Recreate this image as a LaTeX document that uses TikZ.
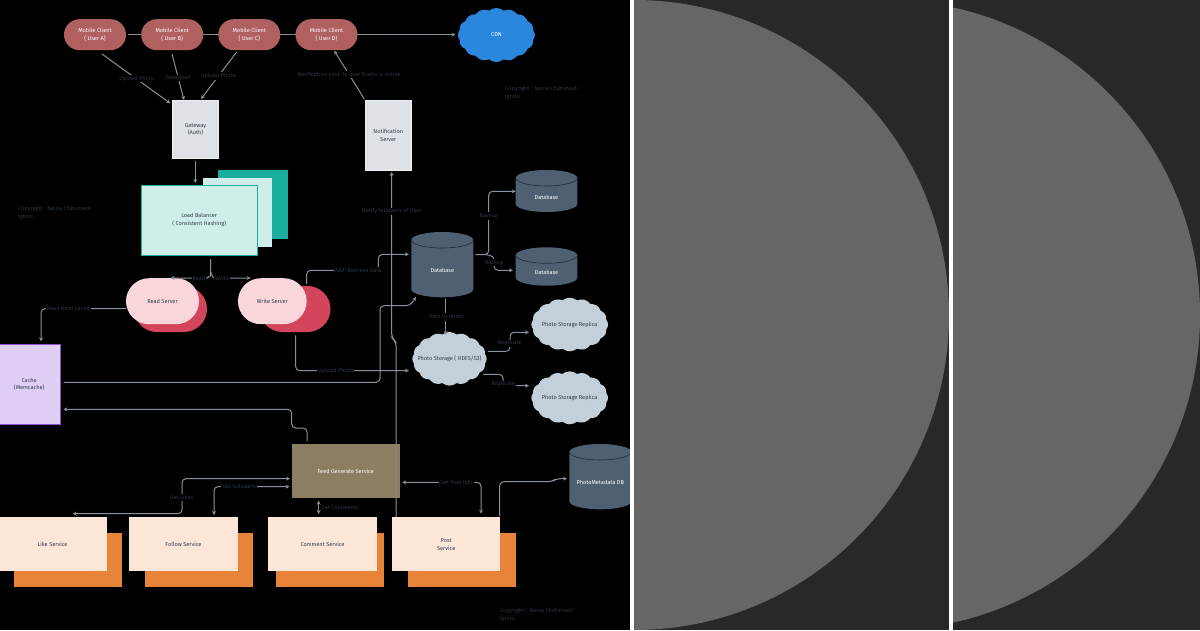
\documentclass[tikz,border=0pt]{standalone}
\usepackage{fontspec}
\setmainfont{Fira Sans}
\usetikzlibrary{shapes.geometric,shapes.symbols,shapes.misc,arrows.meta}
\definecolor{clientc}{HTML}{B0605E}
\definecolor{grayfill}{HTML}{DEE1E5}
\definecolor{tealb}{HTML}{1AAE9F}
\definecolor{tealf}{HTML}{CFEEEA}
\definecolor{pinkf}{HTML}{F8D6DA}
\definecolor{redb}{HTML}{D3455B}
\definecolor{lilac}{HTML}{E0CFF5}
\definecolor{purp}{HTML}{8A4FD3}
\definecolor{dbc}{HTML}{4E6072}
\definecolor{dbl}{HTML}{1F2C38}
\definecolor{cdnc}{HTML}{2B87DD}
\definecolor{cloudc}{HTML}{C3CFD9}
\definecolor{feedc}{HTML}{8C7E63}
\definecolor{peach}{HTML}{FBE6D8}
\definecolor{orangeb}{HTML}{E8833A}
\definecolor{linec}{HTML}{87919B}
\definecolor{dimt}{HTML}{2D3742}
\definecolor{darkt}{HTML}{333E4A}
\definecolor{panelbg}{HTML}{282828}
\definecolor{circ}{HTML}{666666}
% name, x centre, half width, y top, y bottom, y of text, text
\newcommand{\dbcyl}[7]{%
  \fill[dbc] ({#2-#3},{#4+8}) .. controls ({#2-#3},{#4+3.6}) and ({#2-.55*#3},{#4}) .. ({#2},{#4})
    .. controls ({#2+.55*#3},{#4}) and ({#2+#3},{#4+3.6}) .. ({#2+#3},{#4+8})
    -- ({#2+#3},{#5-8}) .. controls ({#2+#3},{#5-3.6}) and ({#2+.55*#3},{#5}) .. ({#2},{#5})
    .. controls ({#2-.55*#3},{#5}) and ({#2-#3},{#5-3.6}) .. ({#2-#3},{#5-8}) -- cycle;
  \draw[dbl,line width=.6pt] ({#2-#3},{#4+8}) .. controls ({#2-#3},{#4+12.4}) and ({#2-.55*#3},{#4+16}) .. ({#2},{#4+16})
    .. controls ({#2+.55*#3},{#4+16}) and ({#2+#3},{#4+12.4}) .. ({#2+#3},{#4+8});
  \node[txt,text=white] (#1) at (#2,#6) {#7};}
\tikzset{
  x=1pt,y=-1pt,
  txt/.style={font=\fontsize{5.6}{7.6}\selectfont,align=center,inner sep=0pt,outer sep=0pt},
  client/.style={txt,rounded rectangle,fill=clientc,text=white,minimum width=62pt,minimum height=31pt},
  graybox/.style={txt,rectangle,fill=grayfill,draw=grayfill!60!white,line width=.5pt,text=darkt},
  tealback/.style={rectangle,fill=tealb,inner sep=0pt},
  tealfront/.style={txt,rectangle,fill=tealf,draw=tealb,line width=.6pt,text=darkt},
  pillf/.style={txt,rounded rectangle,fill=pinkf,text=darkt,minimum height=46pt},
  pillb/.style={rounded rectangle,fill=redb,inner sep=0pt,minimum height=46pt},
  cloudn/.style={inner sep=0pt,outer sep=0pt,cloud,cloud puffs=16,cloud puff arc=80,aspect=1.4,fill=cloudc},
  cloudt/.style={txt,text=darkt},
  svcf/.style={txt,rectangle,fill=peach,text=darkt,minimum width=108.4pt,minimum height=54pt},
  svcb/.style={rectangle,fill=orangeb,inner sep=0pt,minimum width=108pt,minimum height=54pt},
  conn/.style={draw=linec,line width=1pt,rounded corners=4pt},
  tip/.style={conn,-{Stealth[length=4pt,width=4pt]}},
  tips/.style={conn,{Stealth[length=4pt,width=4pt]}-{Stealth[length=4pt,width=4pt]}},
  lab/.style={font=\fontsize{5.6}{7.6}\selectfont,text=dimt,fill=black,inner sep=1pt,outer sep=0pt},
  copyr/.style={font=\fontsize{5.6}{8}\selectfont,text=dimt,align=left,anchor=west,inner sep=0pt}
}
\begin{document}
\begin{tikzpicture}
\useasboundingbox (0,0) rectangle (1200,630);
\fill[black] (0,0) rectangle (1200,630);
% clients
\node[client] (ca) at (95,34.7) {Mobile Client\\( User A)};
\node[client] (cb) at (172.2,34.7) {Mobile Client\\( User B)};
\node[client] (cc) at (249.3,34.7) {Mobile Client\\( User C)};
\node[client] (cd) at (326.5,34.7) {Mobile Client\\( User D)};
\node[cloudn,fill=cdnc,minimum width=77pt,minimum height=54pt,label={[txt,text=white]center:CDN}] (cdn) at (496.4,35) {};
% gateway, notification
\node[graybox,minimum width=46.4pt,minimum height=58pt] (gw) at (195.5,129.3) {Gateway\\(Auth)};
\node[graybox,minimum width=46.4pt,minimum height=69.5pt] (ns) at (388.3,135.2) {Notification\\Server};
% load balancer
\node[tealback,minimum width=69.4pt,minimum height=69.3pt] (lbc) at (253,204.7) {};
\node[tealfront,draw=none,minimum width=69pt,minimum height=69.3pt] (lbb) at (237.8,212.7) {};
\node[tealfront,minimum width=115.7pt,minimum height=69.7pt] (lb) at (199.2,220.2) {Load Balancer\\( Consistent Hashing)};
% servers
\node[pillb,minimum width=73pt] (rsb) at (170.5,309) {};
\node[pillf,minimum width=73pt] (rs) at (162.5,301.2) {Read Server};
\node[pillb,minimum width=71pt] (wsb) at (295,309) {};
\node[pillf,minimum width=68.7pt] (ws) at (272.3,301.2) {Write Server};
% cache
\node[txt,rectangle,fill=lilac,draw=purp,line width=.7pt,text=darkt,minimum width=62.3pt,minimum height=80.7pt] (cache) at (29.2,384.4) {Cache\\(Memcache)};
% databases
\dbcyl{db}{442.3}{31}{232}{297.3}{270.7}{Database}
\dbcyl{dbu}{546.5}{30.8}{170}{212}{197.3}{Database}
\dbcyl{dbl1}{546.5}{30.8}{247.3}{285.7}{272.3}{Database}
\dbcyl{pm}{600.3}{31}{444}{509.3}{482.7}{PhotoMetadata DB}
% clouds
\node[cloudn,minimum width=74.4pt,minimum height=53.7pt,label={[cloudt]center:Photo Storage ( HDFS/S3)}] (ps) at (449.5,358.8) {};
\node[cloudn,minimum width=76.7pt,minimum height=53.6pt,label={[cloudt]center:Photo Storage Replica}] (r1) at (569.7,324.5) {};
\node[cloudn,minimum width=76.7pt,minimum height=53pt,label={[cloudt]center:Photo Storage Replica}] (r2) at (569.7,397.8) {};
% feed
\node[txt,rectangle,fill=feedc,text=white,minimum width=108pt,minimum height=54.3pt] (feed) at (345.7,471.2) {Feed Generate Service};
% services
\node[svcb] (likeb) at (67.8,559.8) {};
\node[svcf] (like) at (52.5,544.3) {Like Service};
\node[svcb] (follb) at (199.2,559.8) {};
\node[svcf] (foll) at (183.5,544.3) {Follow Service};
\node[svcb] (commb) at (330.3,559.8) {};
\node[svcf] (comm) at (322.5,544.3) {Comment Service};
\node[svcb] (postb) at (461.7,559.8) {};
\node[svcf] (post) at (446.2,544.3) {Post\\Service};
% named connector ends
\coordinate (a1) at (128,34.7); \coordinate (b0) at (141,34.7);
\coordinate (b1) at (203,34.7); \coordinate (c0) at (219,34.7);
\coordinate (c1) at (280,34.7); \coordinate (d0) at (296,34.7);
\coordinate (d1) at (357.3,34.7); \coordinate (cdnw) at (455.5,34.7);
\coordinate (a2) at (102,54); \coordinate (gwa) at (170.3,103.3);
\coordinate (b2) at (172,54); \coordinate (gwb) at (184,100);
\coordinate (c2) at (236.7,52); \coordinate (gwc) at (201,99);
\coordinate (gws) at (195.3,160.7); \coordinate (lbn) at (195.3,183);
\coordinate (nsa) at (364.3,99); \coordinate (d2) at (334.3,50.7);
\coordinate (pn) at (396,517); \coordinate (nss) at (391.7,172);
\coordinate (lbs) at (210.7,259); \coordinate (rsn) at (170.7,278); \coordinate (wsn) at (250.7,278);
\coordinate (rsw) at (126,308.7); \coordinate (can) at (41,341.3);
\coordinate (cae) at (63.7,382.3); \coordinate (dbsw) at (416,297);
\coordinate (cae2) at (63.3,409.3); \coordinate (fn) at (307,441);
\coordinate (wsnn) at (306.7,284); \coordinate (dbw) at (409,254.3);
\coordinate (wss) at (295.7,335.3); \coordinate (psw) at (409,370.7);
\coordinate (dbe) at (475.3,254.7); \coordinate (dbuw) at (515.7,191.3); \coordinate (dblw) at (513,270.3);
\coordinate (dbss) at (445.7,299.3); \coordinate (psn) at (445.7,335);
\coordinate (pse) at (488,351.3); \coordinate (r1w) at (529,332.3);
\coordinate (pse2) at (483.3,374.3); \coordinate (r2w) at (529,385.7);
\coordinate (fw1) at (290,478.7); \coordinate (liken) at (72.7,513.7);
\coordinate (fw2) at (289.5,486.7); \coordinate (folln) at (214,515);
\coordinate (fs) at (318.7,500.7); \coordinate (commn) at (318.7,514);
\coordinate (fe) at (402.3,482.3); \coordinate (postn) at (481,513.7);
\coordinate (postn2) at (499.7,516); \coordinate (pmw) at (567,478.7);
% connectors
\draw[conn] (a1) -- (b0);
\draw[conn] (b1) -- (c0);
\draw[conn] (c1) -- (d0);
\draw[tip] (d1) -- (cdnw);
\draw[tip] (a2) -- (gwa);
\draw[tip] (b2) -- (gwb);
\draw[tip] (c2) -- (gwc);
\draw[tip] (gws) -- (lbn);
\draw[tip] (nsa) -- (d2);
\draw[tip] (pn) -- (396,341.7) -- (391.7,338) -- (nss);
\draw[tip] (lbs) -- (210.7,272) .. controls (210.7,275) and (207,278) .. (203,278) -- (rsn);
\draw[tip] (210.7,272) .. controls (210.7,275) and (214,278) .. (218,278) -- (wsn);
\draw[tip] (rsw) -- (41,308.7) -- (can);
\draw[tip] (cae) -- (380,382.3) -- (380,305.7) -- (410,305.7) -- (dbsw);
\draw[tip] (fn) -- (307,428) -- (291.7,428) -- (291.7,409.3) -- (cae2);
\draw[tip] (wsnn) -- (306.7,270.3) -- (378.3,270.3) -- (378.3,254.5) -- (dbw);
\draw[tip] (wss) -- (295.7,370.7) -- (psw);
\draw[tip] (dbe) -- (488.7,254.7) -- (488.7,191.3) -- (dbuw);
\draw[tip] (486,254.7) -- (494,256) -- (494,270.3) -- (dblw);
\draw[tip] (dbss) -- (psn);
\draw[tip] (pse) -- (510,351.3) -- (510,332.3) -- (r1w);
\draw[tip] (pse2) -- (503,374.3) -- (503,385.7) -- (r2w);
\draw[tips] (fw1) -- (182,478.7) -- (182,513.7) -- (liken);
\draw[tips] (fw2) -- (214,486.7) -- (folln);
\draw[tips] (fs) -- (commn);
\draw[tips] (fe) -- (481,482.3) -- (postn);
\draw[tip] (postn2) -- (499.7,481.7) -- (552,481.7) -- (556,478.7) -- (pmw);
\draw[draw=feedc!80!linec,line width=1pt] (396,444.3) -- (396,498);
% labels
\node[lab] (l1) at (136.7,78.7) {Upload Photo};
\node[lab] (l2) at (178,77.7) {Download};
\node[lab] (l3) at (218.3,76) {Upload Photo};
\node[lab] (l4) at (349,74.7) {Notification push to user D who is online};
\node[lab] (l5) at (391.7,211.3) {Notify followers of User};
\node[lab] (l6) at (199,278) {Read};
\node[lab] (l7) at (222,278) {Write};
\node[lab] (l8) at (68.3,308.7) {Read from Cache};
\node[lab] (l9) at (358.3,270.3) {Add/Retrieve Data};
\node[lab] (l10) at (335.7,370.7) {Upload Photo};
\node[lab] (l11) at (489,216) {Backup};
\node[lab] (l12) at (494.3,262.7) {Backup};
\node[lab] (l13) at (446.7,317) {Path to photo};
\node[lab] (l14) at (509.7,343.3) {Replicate};
\node[lab] (l15) at (503.3,384.3) {Replicate};
\node[lab] (l16) at (181.7,497.3) {Get Likes};
\node[lab] (l17) at (239,486.7) {Get followers};
\node[lab] (l18) at (340,507.3) {Get Comments};
\node[lab] (l19) at (456.7,482.3) {Get Post Info};
\node[copyr] (cr1) at (18,213) {Copyright : Naina Chaturvedi\\Ignito};
\node[copyr] (cr2) at (505,93) {Copyright : Naina Chaturvedi\\Ignito};
\node[copyr] (cr3) at (500,615) {Copyright : Naina Chaturvedi\\Ignito};
% right panels
\fill[white] (630.4,0) rectangle (1200,630);
\begin{scope}
\clip (634,0) rectangle (948.8,630);
\fill[panelbg] (634,0) rectangle (949,630);
\fill[circ] (634,315) circle[radius=315pt];
\end{scope}
\begin{scope}
\clip (953,0) rectangle (1200,630);
\fill[panelbg] (953,0) rectangle (1200,630);
\fill[circ] (885,315) circle[radius=315pt];
\end{scope}
\end{tikzpicture}
\end{document}
